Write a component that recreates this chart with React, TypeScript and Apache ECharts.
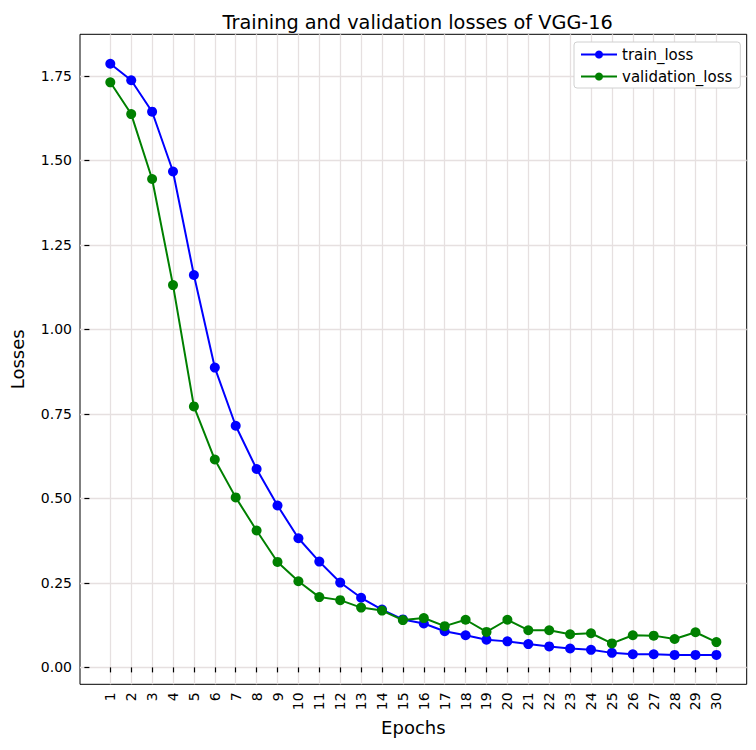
import React, { useEffect, useRef } from "react";
import * as echarts from "echarts";

const epochs = Array.from({ length: 30 }, (_, i) => i + 1);

const trainLoss = [
  1.786, 1.737, 1.644, 1.467, 1.161, 0.887, 0.715, 0.587, 0.479, 0.382,
  0.313, 0.251, 0.206, 0.171, 0.142, 0.13, 0.107, 0.095, 0.082, 0.077,
  0.069, 0.062, 0.056, 0.052, 0.043, 0.039, 0.039, 0.037, 0.037, 0.037,
];

const validationLoss = [
  1.731, 1.637, 1.445, 1.131, 0.772, 0.615, 0.503, 0.405, 0.312, 0.255,
  0.208, 0.199, 0.177, 0.168, 0.14, 0.146, 0.122, 0.141, 0.105, 0.141,
  0.11, 0.11, 0.098, 0.101, 0.071, 0.095, 0.094, 0.084, 0.104, 0.075,
];

const yTicks = [0, 0.25, 0.5, 0.75, 1.0, 1.25, 1.5, 1.75];

const FONT = "DejaVu Sans";
const GRID_COLOR = "#e6e0e0";

export default function App() {
  const chartRef = useRef<HTMLDivElement | null>(null);

  useEffect(() => {
    if (!chartRef.current) return;
    const chart = echarts.init(chartRef.current, null, { renderer: "svg" });
    const pairs = (ys: number[]) => epochs.map((e, i) => [e, ys[i]]);
    // matplotlib-style grid, drawn as mark lines on the axis scales
    const gridLines = [
      ...epochs.map((e) => ({ xAxis: e })),
      ...yTicks.map((v) => ({ yAxis: v })),
    ];
    const option = {
      animation: false,
      backgroundColor: "#fff",
      textStyle: { fontFamily: FONT },
      title: {
        text: "Training and validation losses of VGG-16",
        left: 412.7,
        top: 8,
        textAlign: "center",
        textStyle: { fontFamily: FONT, fontSize: 19.3, fontWeight: "normal", color: "#000" },
      },
      grid: {
        left: 78.7,
        top: 34.3,
        right: 9.3,
        bottom: 65.7,
        show: true,
        borderColor: "#000",
        borderWidth: 1,
        backgroundColor: "transparent",
      },
      legend: {
        orient: "vertical",
        left: 574,
        top: 42,
        z: 20,
        padding: [5, 8, 4, 6],
        itemGap: 7,
        itemWidth: 36,
        itemHeight: 10,
        backgroundColor: "#fff",
        borderColor: "#d0d0d0",
        borderWidth: 1,
        borderRadius: 3,
        textStyle: { fontFamily: FONT, fontSize: 15, color: "#000" },
        data: ["train_loss", "validation_loss"],
      },
      xAxis: {
        type: "value",
        min: -0.45,
        max: 31.45,
        name: "Epochs",
        nameLocation: "middle",
        nameGap: 34,
        nameTextStyle: { fontFamily: FONT, fontSize: 18, color: "#000" },
        axisLine: { show: false },
        axisTick: { show: true, inside: false, length: 5, customValues: epochs, lineStyle: { color: "#000", width: 1.2 } },
        axisLabel: {
          customValues: epochs,
          rotate: 90,
          margin: 8,
          fontFamily: FONT,
          fontSize: 14,
          color: "#000",
        },
        splitLine: { show: false },
      },
      yAxis: {
        type: "value",
        min: -0.05,
        max: 1.873,
        name: "Losses",
        nameLocation: "middle",
        nameGap: 54,
        nameTextStyle: { fontFamily: FONT, fontSize: 18, color: "#000" },
        axisLine: { show: false },
        axisTick: { show: true, inside: false, length: 5, customValues: yTicks, lineStyle: { color: "#000", width: 1.2 } },
        axisLabel: {
          customValues: yTicks,
          margin: 8,
          fontFamily: FONT,
          fontSize: 14,
          color: "#000",
          formatter: (v: number) => v.toFixed(2),
        },
        splitLine: { show: false },
      },
      series: [
        {
          name: "grid",
          type: "line",
          data: [],
          silent: true,
          z: 0,
          markLine: {
            silent: true,
            z: 0,
            symbol: "none",
            label: { show: false },
            emphasis: { disabled: true },
            lineStyle: { color: GRID_COLOR, width: 1.3, type: "solid" },
            data: gridLines,
          },
        },
        {
          name: "train_loss",
          type: "line",
          data: pairs(trainLoss),
          symbol: "circle",
          symbolSize: 10,
          itemStyle: { color: "#0000ff" },
          lineStyle: { color: "#0000ff", width: 2 },
          z: 3,
        },
        {
          name: "validation_loss",
          type: "line",
          data: pairs(validationLoss),
          symbol: "circle",
          symbolSize: 10,
          itemStyle: { color: "#008000" },
          lineStyle: { color: "#008000", width: 2 },
          z: 4,
        },
      ],
    };
    chart.setOption(option as any);
    return () => {
      chart.dispose();
    };
  }, []);

  return (
    <div
      ref={chartRef}
      style={{ position: "fixed", left: 0, top: 0, width: 756, height: 750, background: "#fff" }}
    />
  );
}
